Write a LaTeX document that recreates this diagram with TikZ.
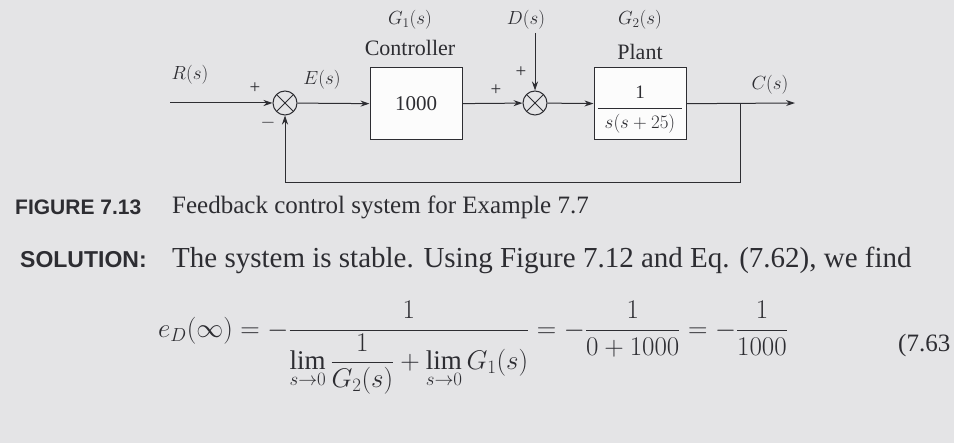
\RequirePackage{fix-cm}
\documentclass[tikz,border=0pt]{standalone}
\usepackage{amsmath}
\usepackage{fontspec}
\setmainfont{Liberation Serif}
\setsansfont{Liberation Sans}
\usetikzlibrary{arrows.meta}
\definecolor{ink}{RGB}{45,45,50}
\definecolor{paper}{RGB}{228,228,230}
\begin{document}
\begin{tikzpicture}[x=1pt,y=-1pt,
  blk/.style={draw=ink,line width=1pt,fill=white!90!paper,minimum width=92pt,minimum height=72pt,inner sep=0pt},
  sumj/.style={draw=ink,line width=1pt,circle,minimum size=24pt,inner sep=0pt,path picture={\draw[ink,line width=1pt] (path picture bounding box.south west)--(path picture bounding box.north east) (path picture bounding box.north west)--(path picture bounding box.south east);}},
  sig/.style={draw=ink,line width=1pt,-{Stealth[length=9pt,width=6pt]}},
  lbl/.style={text=ink,font=\fontsize{19}{21}\selectfont,inner sep=1pt},
  txt/.style={text=ink,font=\fontsize{29}{32}\selectfont,anchor=west,inner sep=0pt}]
\fill[paper] (0,0) rectangle (954,443);
\useasboundingbox (0,0) rectangle (954,443);
\coordinate (rin) at (170,103);
\node[sumj] (s1) at (285,103) {};
\node[blk] (b1) at (416,104) {};
\node[lbl,font=\fontsize{21}{23}\selectfont] at (b1) {1000};
\node[sumj] (s2) at (535,103) {};
\node[blk] (b2) at (640,104) {};
\node[lbl,font=\fontsize{19}{21}\selectfont] (n2) at (640,92) {1};
\node[lbl,font=\fontsize{19}{21}\selectfont] (d2) at (640,124) {$s(s+25)$};
\draw[ink,line width=0.8pt] (598,108)--(682,108);
\coordinate (dtop) at (535,33);
\coordinate (out) at (795,103);
\coordinate (tap) at (740,103);
\coordinate (fb1) at (740,183);
\coordinate (fb2) at (285,183);
\draw[sig] (rin)--(s1);
\draw[sig] (s1)--(b1);
\draw[sig] (b1)--(s2);
\draw[sig] (dtop)--(s2);
\draw[sig] (s2)--(b2);
\draw[sig] (b2)--(out);
\draw[sig] (tap)--(fb1)--(fb2)--(s1);
\node[lbl] at (190,75) {$R(s)$};
\node[lbl] at (255,88) {+};
\node[lbl] at (268,123) {$-$};
\node[lbl] at (322,80) {$E(s)$};
\node[lbl] at (410,20) {$G_1(s)$};
\node[lbl,font=\fontsize{22}{24}\selectfont] at (410,48) {Controller};
\node[lbl] at (526,20) {$D(s)$};
\node[lbl] at (521,72) {+};
\node[lbl] at (496,90) {+};
\node[lbl] at (640,20) {$G_2(s)$};
\node[lbl,font=\fontsize{22}{24}\selectfont] at (640,52) {Plant};
\node[lbl] at (770,85) {$C(s)$};
\node[txt,font=\sffamily\bfseries\fontsize{21}{24}\selectfont] at (15,207) {FIGURE 7.13};
\node[txt,font=\fontsize{25}{28}\selectfont] at (172,207) {Feedback control system for Example 7.7};
\node[txt,font=\sffamily\bfseries\fontsize{23}{26}\selectfont] at (20,260) {SOLUTION:};
\node[txt] at (172,260) {The system is stable. Using Figure 7.12 and Eq. (7.62), we find};
\node[txt,font=\fontsize{27}{30}\selectfont,anchor=west] at (158,348) {$e_D(\infty)=-\dfrac{1}{\lim\limits_{s\to0}\dfrac{1}{G_2(s)}+\lim\limits_{s\to0}G_1(s)}=-\dfrac{1}{0+1000}=-\dfrac{1}{1000}$};
\node[txt,font=\fontsize{25}{28}\selectfont] at (898,345) {(7.63};
\end{tikzpicture}
\end{document}
